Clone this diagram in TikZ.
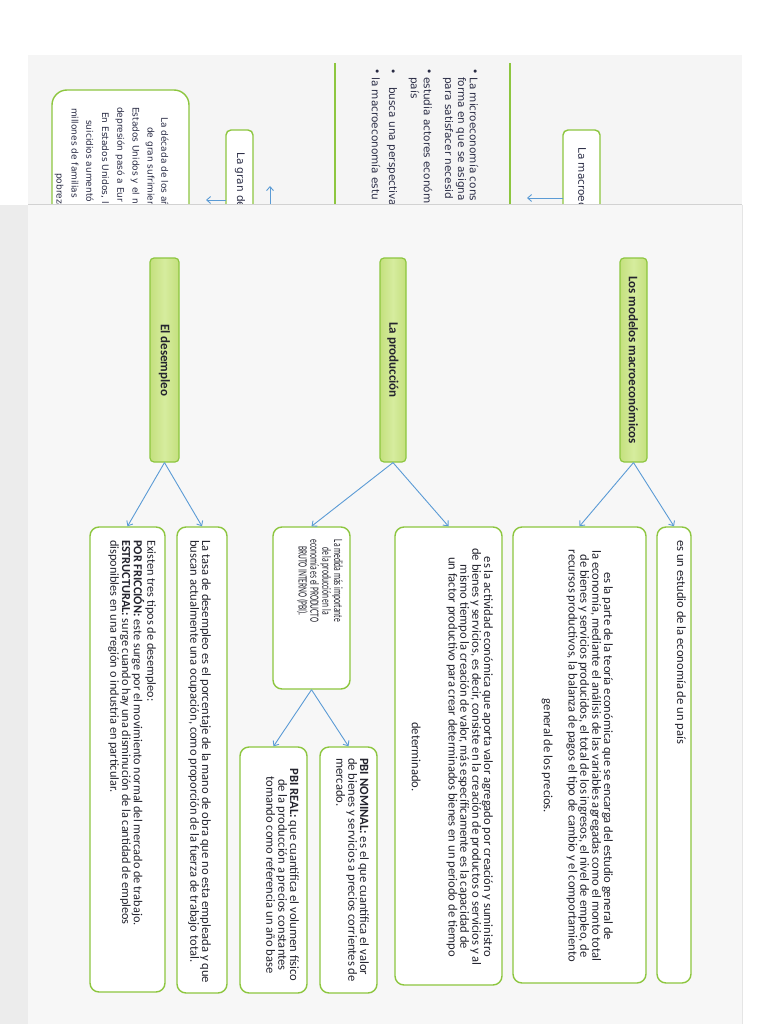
\documentclass[tikz,border=0pt]{standalone}
\usepackage{fontspec}
\setmainfont{Carlito}
\newfontfamily\backfont{DejaVu Sans}
\newfontfamily\condfont[FakeStretch=0.6]{Carlito}
\usetikzlibrary{arrows.meta}
\definecolor{gborder}{HTML}{8DC63F}
\definecolor{gfill}{HTML}{D6EC9E}
\definecolor{gfilldark}{HTML}{C4E07E}
\definecolor{arrowblue}{HTML}{5B9BD5}
\definecolor{txt}{HTML}{24242E}
\definecolor{backtxt}{HTML}{2A2C45}
\definecolor{pagefront}{HTML}{F7F7F7}
\definecolor{pageback}{HTML}{F5F5F5}
\definecolor{stripgray}{HTML}{ECECEC}
\begin{document}
\begin{tikzpicture}[x=1pt,y=-1pt,
  titlebox/.style={draw=gborder, line width=1.2pt, rounded corners=4pt,
    left color=gfilldark, right color=gfilldark, middle color=gfill,
    rotate=-90, inner sep=0pt, text=txt,
    font=\fontsize{13}{14}\selectfont\bfseries},
  contentbox/.style={draw=gborder, line width=1.4pt, rounded corners=9pt,
    fill=white, rotate=-90, inner sep=0pt},
  bodytxt/.style={rotate=-90, inner sep=0pt, text=txt,
    font=\fontsize{12.6}{11.8}\selectfont},
  backtext/.style={rotate=-90, inner sep=0pt, text=backtxt, anchor=west,
    font=\backfont\fontsize{9}{10}\selectfont},
  backlist/.style={backtext, font=\backfont\fontsize{10.5}{11}\selectfont},
  backbox/.style={draw=gborder, line width=1.4pt, fill=white},
  conn/.style={draw=arrowblue, line width=0.9pt,
    -{Straight Barb[length=4pt,width=7pt]}}
]
\useasboundingbox (0,0) rectangle (768,1024);
\fill[white] (0,0) rectangle (768,1024);

% ---------- back page (partly hidden) ----------
\fill[pageback] (28,55) rectangle (742,215);
\draw[gborder, line width=1.4pt] (335,63) -- (335,215);
\draw[gborder, line width=1.4pt] (510,63) -- (510,215);

\draw[backbox, rounded corners=15pt] (52,90) rectangle (189,300);
\node[backtext] (bl1) at (165,117) {La década de los añ};
\node[backtext] (bl2) at (150,127) {de gran sufrimien};
\node[backtext] (bl3) at (135,107) {Estados Unidos y el n};
\node[backtext] (bl4) at (120,107) {depresión pasó a Eur};
\node[backtext] (bl5) at (105,112) {En Estados Unidos, l};
\node[backtext] (bl6) at (90,120) {suicidios aumentó};
\node[backtext] (bl7) at (75,108) {millones de familias};
\node[backtext] (bl8) at (59,173) {pobreza};

\draw[backbox, rounded corners=5pt] (226,130) rectangle (253,300);
\node[backlist] (gran) at (240,152) {La gran de};
\coordinate (ga1) at (226,200);
\coordinate (ga2) at (206,200);
\draw[conn] (ga1) -- (ga2);
\coordinate (gu1) at (270,207);
\coordinate (gu2) at (270,186);
\draw[conn] (gu1) -- (gu2);

\node[backlist] (bu1) at (474,68) {•};
\node[backlist] (mi1) at (474,77) {La microeconomía cons};
\node[backlist] (mi2) at (461,77) {forma en que se asigna};
\node[backlist] (mi3) at (448,77) {para satisfacer necesid};
\node[backlist] (bu2) at (428,68) {•};
\node[backlist] (mi4) at (428,77) {estudia actores económ};
\node[backlist] (mi5) at (414,77) {país};
\node[backlist] (bu3) at (392,68) {•};
\node[backlist] (mi6) at (392,87) {busca una perspectiva};
\node[backlist] (bu4) at (376,68) {•};
\node[backlist] (mi7) at (376,77) {la macroeconomía estu};

\draw[backbox, rounded corners=5pt] (563,130) rectangle (600,300);
\node[backlist] (macro) at (582,147) {La macroec};
\coordinate (ma1) at (563,198);
\coordinate (ma2) at (527,198);
\draw[conn] (ma1) -- (ma2);

% ---------- front page ----------
\fill[stripgray] (0,205) rectangle (28,1024);
\fill[pagefront] (28,205) rectangle (742,1024);
\draw[gray!35, line width=1pt] (28,205) -- (742,205);
\draw[gray!20, line width=0.6pt] (742,205) -- (742,1024);

% title boxes
\node[titlebox, minimum width=204pt, minimum height=27pt] (modelos) at (633.5,360) {Los modelos macroeconómicos};
\node[titlebox, minimum width=204pt, minimum height=26pt] (produccion) at (393,360) {La producción};
\node[titlebox, minimum width=204pt, minimum height=29pt] (desempleo) at (164.5,360) {El desempleo};

% content boxes
\node[contentbox, minimum width=456pt, minimum height=34pt] (estudio) at (674,755) {};
\node[contentbox, minimum width=456pt, minimum height=133pt] (parte) at (579.5,755) {};
\node[contentbox, minimum width=458pt, minimum height=107pt] (actividad) at (448.5,756) {};
\node[contentbox, minimum width=162pt, minimum height=77pt] (medida) at (311.5,608) {};
\node[contentbox, minimum width=246pt, minimum height=57pt] (nominal) at (348.5,870) {};
\node[contentbox, minimum width=246pt, minimum height=67pt] (real) at (273.5,870) {};
\node[contentbox, minimum width=466pt, minimum height=50pt] (tasa) at (202,760) {};
\node[contentbox, minimum width=465pt, minimum height=75pt] (tipos) at (127.5,759.5) {};

% texts
\node[bodytxt, anchor=north west, align=left] (t-estudio) at (686,540)
  {es un estudio de la economía de un país};
\node[bodytxt, anchor=north, align=center] (t-parte) at (613,756)
  {es la parte de la teoría económica que se encarga del estudio general de\\
   la economía, mediante el análisis de las variables agregadas como el monto total\\
   de bienes y servicios producidos, el total de los ingresos, el nivel de empleo, de\\
   recursos productivos, la balanza de pagos el tipo de cambio y el comportamiento\\[13pt]
   general de los precios.};
\node[bodytxt, anchor=north, align=center] (t-actividad) at (493,757)
  {es la actividad económica que aporta valor agregado por creación y suministro\\
   de bienes y servicios, es decir, consiste en la creación de productos o servicios y al\\
   mismo tiempo la creación de valor, más específicamente es la capacidad de\\
   un factor productivo para crear determinados bienes en un periodo de tiempo\\[25pt]
   determinado.};
\node[bodytxt, anchor=north, align=center, font=\condfont\fontsize{12.6}{11.8}\selectfont] (t-medida) at (343,581)
  {La medida más importante\\ de la producción en la\\ economía es el PRODUCTO\\ BRUTO INTERNO (PBI).};
\node[bodytxt, anchor=north west, align=left] (t-nominal) at (369,758)
  {\textbf{PBI NOMINAL:} es el que cuantifica el valor\\ de bienes y servicios a precios corrientes de\\ mercado.};
\node[bodytxt, anchor=north, align=center] (t-real) at (299,875)
  {\textbf{PBI REAL:} que cuantifica el volumen físico\\ de la producción a precios constantes\\ tomando como referencia un año base};
\node[bodytxt, anchor=north west, align=left] (t-tasa) at (211,540)
  {La tasa de desempleo es el porcentaje de la mano de obra que no esta empleada y que\\
   buscan actualmente una ocupación, como proporción de la fuerza de trabajo total.};
\node[bodytxt, anchor=north west, align=left, font=\fontsize{12.3}{11.8}\selectfont] (t-tipos) at (156,540)
  {Existen tres tipos de desempleo:\\
   \textbf{POR FRICCIÓN:} este surge por el movimiento normal del mercado de trabajo.\\
   \textbf{ESTRUCTURAL:} surge cuando hay una disminución de la cantidad de empleos\\
   disponibles en una región o industria en particular.};

% connectors
\draw[conn] (modelos.east) -- (estudio.west);
\draw[conn] (modelos.east) -- (parte.west);
\draw[conn] (produccion.east) -- (actividad.west);
\draw[conn] (produccion.east) -- (medida.west);
\draw[conn] (medida.east) -- (nominal.west);
\draw[conn] (medida.east) -- (real.west);
\draw[conn] (desempleo.east) -- (tasa.west);
\draw[conn] (desempleo.east) -- (tipos.west);
\end{tikzpicture}
\end{document}
